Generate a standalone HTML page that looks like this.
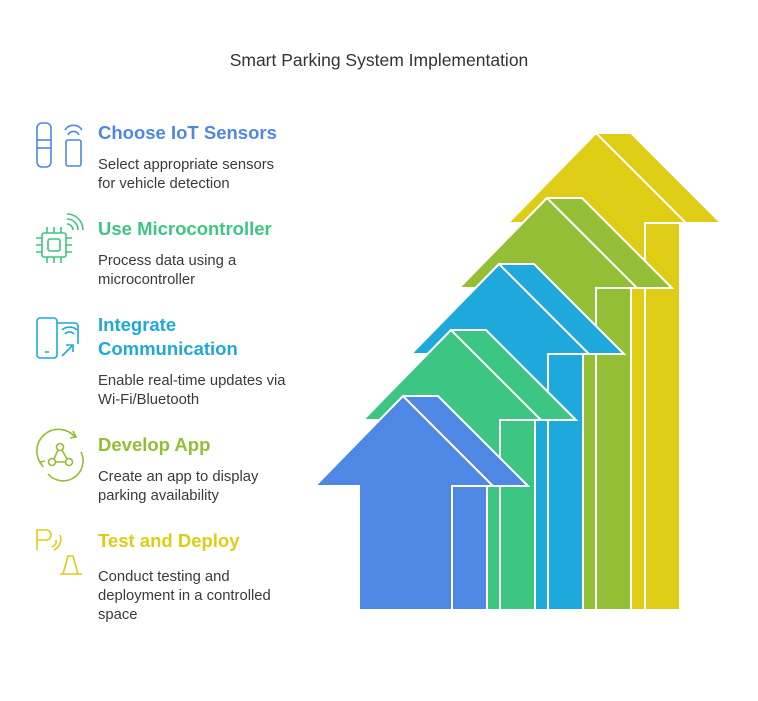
<!DOCTYPE html>
<html><head><meta charset="utf-8"><style>
html,body{margin:0;padding:0;background:#fff;}
svg text{font-family:"Liberation Sans",sans-serif;}
</style></head><body>
<svg width="758" height="696" viewBox="0 0 758 696" xmlns="http://www.w3.org/2000/svg">
<rect width="758" height="696" fill="#fff"/>
<text x="379" y="66" text-anchor="middle" font-size="17.5" fill="#333">Smart Parking System Implementation</text>
<g stroke="#fff" stroke-width="2" stroke-linejoin="miter">
<polygon fill="#DFCC14" points="508,223 596,133 631,133 721,223 680,223 680,610 552,610 552,223"/>
<polygon fill="#DFCC14" points="508,223 596,133 686,223 645,223 645,610 552,610 552,223"/>
<polygon fill="#93BE35" points="459,288 547,198 582,198 672,288 631,288 631,610 503,610 503,288"/>
<polygon fill="#93BE35" points="459,288 547,198 637,288 596,288 596,610 503,610 503,288"/>
<polygon fill="#1FA9DA" points="411,354 499,264 534,264 624,354 583,354 583,610 455,610 455,354"/>
<polygon fill="#1FA9DA" points="411,354 499,264 589,354 548,354 548,610 455,610 455,354"/>
<polygon fill="#3DC583" points="363,420 451,330 486,330 576,420 535,420 535,610 407,610 407,420"/>
<polygon fill="#3DC583" points="363,420 451,330 541,420 500,420 500,610 407,610 407,420"/>
<polygon fill="#4E87E4" points="315,486 403,396 438,396 528,486 487,486 487,610 359,610 359,486"/>
<polygon fill="#4E87E4" points="315,486 403,396 493,486 452,486 452,610 359,610 359,486"/>
</g>
<g font-weight="bold" font-size="18.5">
<text x="98" y="139" fill="#4E87E4">Choose IoT Sensors</text>
<text x="98" y="235" fill="#3DC583">Use Microcontroller</text>
<text x="98" y="331" fill="#1FA9DA">Integrate</text>
<text x="98" y="355" fill="#1FA9DA">Communication</text>
<text x="98" y="451" fill="#93BE35">Develop App</text>
<text x="98" y="547" fill="#DFCC14">Test and Deploy</text>
</g>
<g font-size="14.8" fill="#3a3a3a">
<text x="98" y="169">Select appropriate sensors</text>
<text x="98" y="188">for vehicle detection</text>
<text x="98" y="265">Process data using a</text>
<text x="98" y="284">microcontroller</text>
<text x="98" y="385">Enable real-time updates via</text>
<text x="98" y="404">Wi-Fi/Bluetooth</text>
<text x="98" y="481">Create an app to display</text>
<text x="98" y="500">parking availability</text>
<text x="98" y="581">Conduct testing and</text>
<text x="98" y="600">deployment in a controlled</text>
<text x="98" y="619">space</text>
</g>
<g fill="none" stroke-width="1.6">
<g stroke="#4E87E4">
<rect x="37" y="123" width="14" height="44" rx="5"/>
<line x1="37" y1="140" x2="51" y2="140"/><line x1="37" y1="148" x2="51" y2="148"/>
<rect x="66" y="140" width="15" height="26" rx="2"/>
<path d="M68,135 a6,6 0 0 1 11,0 M65,130 a10,10 0 0 1 17,0"/>
</g>
<g stroke="#3DC583">
<rect x="42" y="233" width="24" height="24" rx="2"/><rect x="48" y="239" width="12" height="12" rx="2"/>
<path d="M47,233v-6M54,233v-6M61,233v-6M47,257v6M54,257v6M61,257v6M42,238h-6M42,245h-6M42,252h-6M66,238h6M66,245h6M66,252h6"/>
<path d="M67,224a6,6 0 0 1 6,6M67,219a11,11 0 0 1 11,11M67,214a16,16 0 0 1 16,16"/>
</g>
<g stroke="#1FA9DA">
<rect x="37" y="318" width="20" height="40" rx="3"/><line x1="45" y1="352" x2="49" y2="352"/>
<path d="M57,323h18a3,3 0 0 1 3,3v18"/>
<path d="M65,334a6,6 0 0 1 9,0M62,330a11,11 0 0 1 15,0"/>
<path d="M62,356l11,-11M66,345h7v7"/>
</g>
<g stroke="#93BE35">
<path d="M42,465a20,20 0 0 1 33,-28M81,452a20,20 0 0 1 -33,22"/>
<path d="M73,431l3,6-6,1M43,467l-3,-5 5,-1"/>
<circle cx="60" cy="447" r="3.5"/><circle cx="52" cy="462" r="3.5"/><circle cx="69" cy="462" r="3.5"/>
<path d="M58,450l-4,9M62,450l5,9M55,462h11"/>
</g>
<g stroke="#DFCC14">
<path d="M37,550v-20h9a5,5 0 0 1 0,10h-9"/>
<path d="M56,540a6,6 0 0 1 -4,7M60,535a12,12 0 0 1 -6,15"/>
<path d="M60,574h22M63,574l5,-18h5l5,18"/>
</g>
</g>
</svg>
</body></html>
